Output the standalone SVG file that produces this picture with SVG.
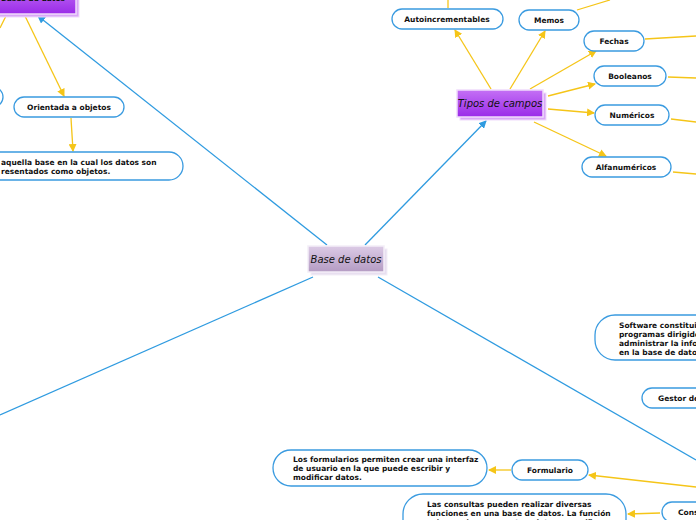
<svg xmlns="http://www.w3.org/2000/svg" width="696" height="520" viewBox="0 0 696 520">
<style>
.n{fill:#fff;stroke:#3a9be0;stroke-width:1.3}
.t{font-family:"DejaVu Sans",sans-serif;font-size:7.5px;font-weight:bold;fill:#111}
.c{text-anchor:middle}
.y{stroke:#f5c518;stroke-width:1.3;fill:none}
.b{stroke:#2f9be0;stroke-width:1.3;fill:none}
.h{font-family:"Comic Sans MS","DejaVu Sans",cursive;font-style:italic;font-size:10px;fill:#111}
</style>
<defs>
<marker id="ay" markerWidth="8" markerHeight="8" refX="7" refY="4" orient="auto" markerUnits="userSpaceOnUse"><path d="M0,0L8,4L0,8z" fill="#f5c518"/></marker>
<marker id="ab" markerWidth="8" markerHeight="8" refX="7" refY="4" orient="auto" markerUnits="userSpaceOnUse"><path d="M0,0L8,4L0,8z" fill="#2f9be0"/></marker>
<linearGradient id="gp" x1="0" y1="0" x2="0" y2="1"><stop offset="0" stop-color="#c470f5"/><stop offset="1" stop-color="#9a2be8"/></linearGradient>
<linearGradient id="gb" x1="0" y1="0" x2="0" y2="1"><stop offset="0" stop-color="#dccbe6"/><stop offset="1" stop-color="#b49bc3"/></linearGradient>
</defs>
<rect width="696" height="520" fill="#fff"/>
<g id="connectors">
<path class="b" d="M327,245L38,16" marker-end="url(#ab)"/>
<path class="b" d="M365,245L486,121" marker-end="url(#ab)"/>
<path class="b" d="M313,277L0,415"/>
<path class="b" d="M378,277L696,460"/>
<path class="y" d="M25,16L64,96" marker-end="url(#ay)"/>
<path class="y" d="M6,16L0,28"/>
<path class="y" d="M71,118L73,151" marker-end="url(#ay)"/>
<path class="y" d="M491,89L455,30" marker-end="url(#ay)"/>
<path class="y" d="M510,89L545,31" marker-end="url(#ay)"/>
<path class="y" d="M530,89L596,51" marker-end="url(#ay)"/>
<path class="y" d="M548,96L595,84" marker-end="url(#ay)"/>
<path class="y" d="M548,109L594,113" marker-end="url(#ay)"/>
<path class="y" d="M534,122L606,156" marker-end="url(#ay)"/>
<path class="y" d="M448,0L448,8"/>
<path class="y" d="M577,10L610,0"/>
<path class="y" d="M645,39L696,36"/>
<path class="y" d="M668,77L696,78"/>
<path class="y" d="M671,119L696,122"/>
<path class="y" d="M673,172L696,174"/>
<path class="y" d="M696,487L589,475" marker-end="url(#ay)"/>
<path class="y" d="M511,470L489,470" marker-end="url(#ay)"/>
<path class="y" d="M660,513L628,514" marker-end="url(#ay)"/>
</g>
<g id="n-base"><rect x="311" y="249" width="76" height="26" fill="#e8dff0" stroke="#f3eef7"/><rect x="308" y="246" width="76" height="26" fill="url(#gb)" stroke="#f3eef7" stroke-width="1.5"/><text class="h c" x="346" y="263">Base de datos</text></g>
<g id="n-tipos"><rect x="460" y="93" width="86" height="27" fill="#d9a8f7" stroke="#f0dcfb"/><rect x="457" y="90" width="86" height="27" fill="url(#gp)" stroke="#f0dcfb" stroke-width="1.5"/><text class="h c" x="500" y="107">Tipos de campos</text></g>
<g id="n-topleft"><rect x="-7" y="-12" width="86" height="29" fill="#d9a8f7" stroke="#f0dcfb"/><rect x="-10" y="-15" width="86" height="29" fill="url(#gp)" stroke="#f0dcfb" stroke-width="1.5"/><text class="t c" x="33" y="1">Bases de datos</text></g>
<g id="n-auto"><rect class="n" x="392" y="9" width="111" height="20" rx="10"/><text class="t c" x="447" y="22">Autoincrementables</text></g>
<g id="n-memos"><rect class="n" x="519" y="10" width="60" height="20" rx="10"/><text class="t c" x="549" y="23">Memos</text></g>
<g id="n-fechas"><rect class="n" x="584" y="31" width="60" height="20" rx="10"/><text class="t c" x="614" y="44">Fechas</text></g>
<g id="n-bool"><rect class="n" x="594" y="66" width="72" height="20" rx="10"/><text class="t c" x="630" y="79">Booleanos</text></g>
<g id="n-num"><rect class="n" x="595" y="105" width="74" height="20" rx="10"/><text class="t c" x="632" y="118">Numéricos</text></g>
<g id="n-alfa"><rect class="n" x="582" y="157" width="89" height="20" rx="10"/><text class="t c" x="626" y="170">Alfanuméricos</text></g>
<g id="n-left"><rect class="n" x="-20" y="87" width="23" height="20" rx="10"/></g>
<g id="n-orient"><rect class="n" x="14" y="97" width="110" height="20" rx="10"/><text class="t c" x="69" y="110">Orientada a objetos</text></g>
<g id="n-orientdesc"><rect class="n" x="-20" y="152" width="203" height="28" rx="14"/><text class="t" x="1" y="165">aquella base en la cual los datos son</text><text class="t" x="1" y="173.5">resentados como objetos.</text></g>
<g id="n-soft"><rect class="n" x="595" y="315" width="120" height="45" rx="20"/><text class="t" x="619" y="328">Software constituido</text><text class="t" x="619" y="337">programas dirigidos</text><text class="t" x="619" y="346">administrar la inform</text><text class="t" x="619" y="355">en la base de datos.</text></g>
<g id="n-gestor"><rect class="n" x="642" y="388" width="70" height="20" rx="10"/><text class="t" x="658" y="401">Gestor de</text></g>
<g id="n-form"><rect class="n" x="512" y="460" width="76" height="20" rx="10"/><text class="t c" x="550" y="473">Formulario</text></g>
<g id="n-formdesc"><rect class="n" x="273" y="450" width="214" height="36" rx="18"/><text class="t" x="293" y="462">Los formularios permiten crear una interfaz</text><text class="t" x="293" y="471">de usuario en la que puede escribir y</text><text class="t" x="293" y="479.5">modificar datos.</text></g>
<g id="n-cons"><rect class="n" x="662" y="502" width="50" height="20" rx="10"/><text class="t" x="678" y="515">Cons</text></g>
<g id="n-consdesc"><rect class="n" x="403" y="494" width="223" height="46" rx="20"/><text class="t" x="427" y="507">Las consultas pueden realizar diversas</text><text class="t" x="427" y="516">funciones en una base de datos. La función</text><text class="t" x="427" y="525">más común es encontrar datos específicos</text></g>
</svg>
